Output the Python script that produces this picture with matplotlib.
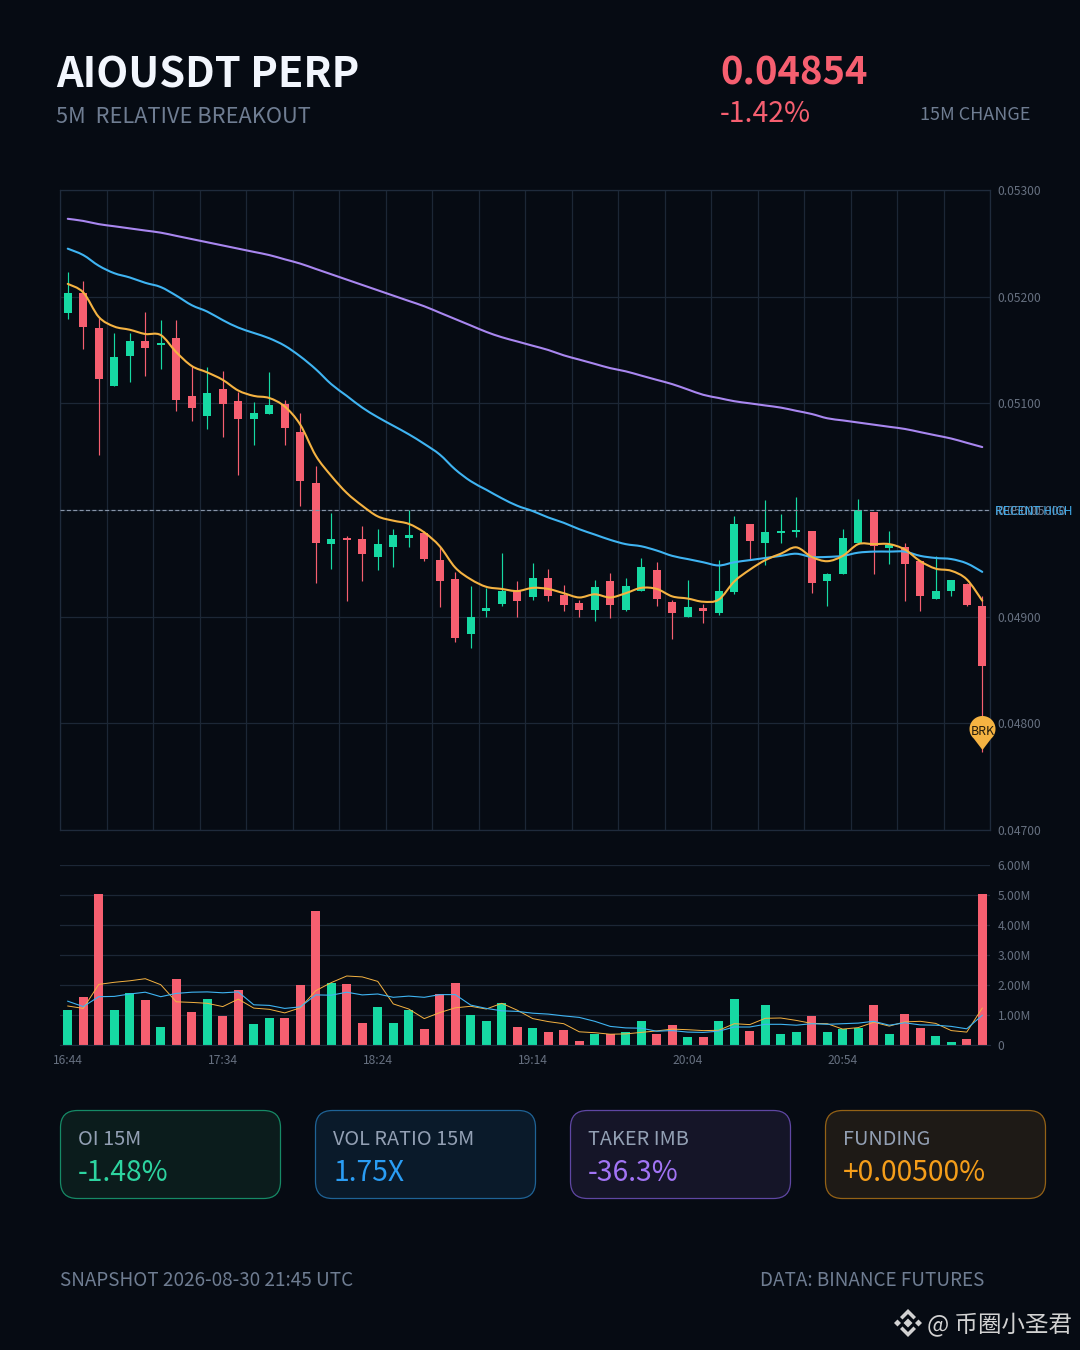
"""
AIOUSDT PERP 5M relative breakout card
"""

import numpy as np
import matplotlib
matplotlib.use('Agg')
import matplotlib.pyplot as plt
from matplotlib.path import Path
from matplotlib.patches import FancyBboxPatch, PathPatch, Polygon

plt.rcParams['font.family'] = ['Noto Sans CJK SC', 'DejaVu Sans']

# Data
opens = [0.05185, 0.05203, 0.05171, 0.05116, 0.05144, 0.05158, 0.05155, 0.05161, 0.05107, 0.05088,
         0.05113, 0.05102, 0.05085, 0.05090, 0.05099, 0.05073, 0.05025, 0.04968, 0.04974, 0.04973,
         0.04956, 0.04965, 0.04974, 0.04978, 0.04953, 0.04935, 0.04884, 0.04905, 0.04912, 0.04924,
         0.04918, 0.04936, 0.04920, 0.04913, 0.04906, 0.04933, 0.04906, 0.04924, 0.04944, 0.04914,
         0.04900, 0.04908, 0.04903, 0.04923, 0.04987, 0.04969, 0.04978, 0.04979, 0.04980, 0.04933,
         0.04940, 0.04969, 0.04998, 0.04964, 0.04965, 0.04952, 0.04917, 0.04924, 0.04931, 0.04910]
closes = [0.05203, 0.05172, 0.05123, 0.05143, 0.05158, 0.05152, 0.05157, 0.05103, 0.05096, 0.05110,
          0.05099, 0.05085, 0.05091, 0.05098, 0.05077, 0.05027, 0.04969, 0.04973, 0.04972, 0.04959,
          0.04968, 0.04977, 0.04977, 0.04954, 0.04933, 0.04880, 0.04900, 0.04908, 0.04924, 0.04915,
          0.04936, 0.04919, 0.04911, 0.04906, 0.04928, 0.04911, 0.04929, 0.04947, 0.04917, 0.04903,
          0.04909, 0.04905, 0.04924, 0.04987, 0.04971, 0.04979, 0.04980, 0.04981, 0.04932, 0.04940,
          0.04974, 0.05000, 0.04966, 0.04967, 0.04949, 0.04919, 0.04924, 0.04934, 0.04911, 0.04854]
highs = [0.05223, 0.05215, 0.05180, 0.05166, 0.05166, 0.05186, 0.05178, 0.05178, 0.05135, 0.05134,
         0.05130, 0.05111, 0.05101, 0.05129, 0.05103, 0.05091, 0.05041, 0.04997, 0.04976, 0.04985,
         0.04982, 0.04982, 0.05000, 0.04980, 0.04966, 0.04942, 0.04929, 0.04927, 0.04960, 0.04933,
         0.04950, 0.04945, 0.04930, 0.04916, 0.04934, 0.04941, 0.04936, 0.04955, 0.04951, 0.04916,
         0.04934, 0.04912, 0.04953, 0.04994, 0.04987, 0.05009, 0.04996, 0.05012, 0.04980, 0.04941,
         0.04982, 0.05010, 0.04998, 0.04980, 0.04969, 0.04952, 0.04957, 0.04934, 0.04932, 0.04919]
lows = [0.05179, 0.05151, 0.05052, 0.05116, 0.05120, 0.05126, 0.05132, 0.05093, 0.05083, 0.05076,
        0.05068, 0.05033, 0.05061, 0.05090, 0.05061, 0.05004, 0.04932, 0.04945, 0.04915, 0.04933,
        0.04944, 0.04947, 0.04965, 0.04952, 0.04909, 0.04876, 0.04871, 0.04900, 0.04910, 0.04900,
        0.04916, 0.04915, 0.04905, 0.04900, 0.04896, 0.04899, 0.04905, 0.04924, 0.04910, 0.04879,
        0.04900, 0.04894, 0.04902, 0.04921, 0.04954, 0.04948, 0.04969, 0.04975, 0.04922, 0.04910,
        0.04940, 0.04969, 0.04940, 0.04949, 0.04915, 0.04905, 0.04917, 0.04919, 0.04910, 0.04773]

ma_fast = [0.05212, 0.05204, 0.05181, 0.05172, 0.05169, 0.05165, 0.05164, 0.05148, 0.05135, 0.05129,
           0.05122, 0.05112, 0.05107, 0.05105, 0.05097, 0.05080, 0.05051, 0.05032, 0.05016, 0.05004,
           0.04994, 0.04990, 0.04987, 0.04979, 0.04966, 0.04946, 0.04935, 0.04928, 0.04926, 0.04924,
           0.04927, 0.04926, 0.04922, 0.04918, 0.04921, 0.04918, 0.04922, 0.04927, 0.04926, 0.04919,
           0.04917, 0.04914, 0.04916, 0.04933, 0.04944, 0.04953, 0.04959, 0.04965, 0.04956, 0.04952,
           0.04957, 0.04968, 0.04968, 0.04968, 0.04963, 0.04952, 0.04945, 0.04943, 0.04935, 0.04915]
ma_mid = [0.05245, 0.05239, 0.05229, 0.05222, 0.05218, 0.05213, 0.05209, 0.05201, 0.05192, 0.05186,
          0.05178, 0.05171, 0.05166, 0.05161, 0.05154, 0.05144, 0.05132, 0.05118, 0.05107, 0.05096,
          0.05087, 0.05079, 0.05071, 0.05062, 0.05052, 0.05038, 0.05027, 0.05019, 0.05011, 0.05004,
          0.04999, 0.04993, 0.04988, 0.04982, 0.04977, 0.04972, 0.04968, 0.04966, 0.04962, 0.04957,
          0.04954, 0.04951, 0.04948, 0.04951, 0.04953, 0.04955, 0.04957, 0.04959, 0.04956, 0.04956,
          0.04957, 0.04960, 0.04961, 0.04961, 0.04961, 0.04957, 0.04955, 0.04954, 0.04950, 0.04942]
ma_slow = [0.05273, 0.05271, 0.05268, 0.05266, 0.05264, 0.05262, 0.05260, 0.05257, 0.05254, 0.05251,
           0.05248, 0.05245, 0.05242, 0.05239, 0.05235, 0.05231, 0.05226, 0.05221, 0.05216, 0.05211,
           0.05206, 0.05201, 0.05196, 0.05191, 0.05185, 0.05179, 0.05173, 0.05167, 0.05162, 0.05158,
           0.05154, 0.05150, 0.05145, 0.05141, 0.05137, 0.05133, 0.05130, 0.05126, 0.05122, 0.05118,
           0.05113, 0.05108, 0.05105, 0.05102, 0.05100, 0.05098, 0.05096, 0.05093, 0.05090, 0.05086,
           0.05084, 0.05082, 0.05080, 0.05078, 0.05076, 0.05073, 0.05070, 0.05067, 0.05063, 0.05059]

volumes = [1.16, 1.59, 5.03, 1.16, 1.73, 1.49, 0.60, 2.21, 1.10, 1.53,
           0.97, 1.84, 0.70, 0.91, 0.90, 1.99, 4.47, 2.08, 2.03, 0.74,
           1.26, 0.73, 1.18, 0.52, 1.69, 2.06, 0.99, 0.81, 1.39, 0.59,
           0.58, 0.43, 0.49, 0.12, 0.38, 0.36, 0.42, 0.80, 0.37, 0.67,
           0.28, 0.26, 0.79, 1.54, 0.47, 1.32, 0.36, 0.42, 0.97, 0.42,
           0.53, 0.56, 1.32, 0.38, 1.04, 0.57, 0.29, 0.09, 0.19, 5.02]
vol_fast = [1.30, 1.22, 2.02, 2.09, 2.14, 2.21, 2.01, 1.44, 1.42, 1.39,
            1.28, 1.53, 1.23, 1.19, 1.07, 1.24, 1.81, 2.08, 2.30, 2.27,
            2.12, 1.37, 1.20, 0.88, 1.08, 1.24, 1.29, 1.20, 1.39, 1.16,
            0.88, 0.78, 0.71, 0.44, 0.41, 0.36, 0.37, 0.42, 0.47, 0.53,
            0.51, 0.48, 0.49, 0.71, 0.68, 0.89, 0.90, 0.82, 0.72, 0.71,
            0.53, 0.58, 0.76, 0.63, 0.77, 0.79, 0.72, 0.48, 0.43, 1.23]
vol_slow = [1.46, 1.28, 1.61, 1.62, 1.70, 1.76, 1.61, 1.72, 1.76, 1.77,
            1.74, 1.77, 1.34, 1.32, 1.22, 1.27, 1.67, 1.66, 1.76, 1.67,
            1.70, 1.59, 1.63, 1.59, 1.68, 1.68, 1.33, 1.22, 1.14, 1.12,
            1.06, 1.03, 0.97, 0.92, 0.79, 0.62, 0.57, 0.56, 0.46, 0.48,
            0.43, 0.42, 0.46, 0.60, 0.60, 0.69, 0.69, 0.66, 0.71, 0.69,
            0.71, 0.73, 0.79, 0.66, 0.74, 0.67, 0.66, 0.62, 0.54, 0.99]

recent_high = 0.05000
price_ticks = [0.047, 0.048, 0.049, 0.050, 0.051, 0.052, 0.053]
vol_ticks = [0, 1, 2, 3, 4, 5, 6]
time_labels = ['16:44', '17:34', '18:24', '19:14', '20:04', '20:54']

cards = [('OI 15M', '-1.48%', '#2dd4a0', '#0b1c1c', '#168a66'),
         ('VOL RATIO 15M', '1.75X', '#2a9df4', '#0a1a2a', '#1f6396'),
         ('TAKER IMB', '-36.3%', '#a274f5', '#151528', '#5f47a3'),
         ('FUNDING', '+0.00500%', '#f59e1a', '#1e1a16', '#946216')]

BG = '#060b13'
GRID = '#1c2736'
GREEN = '#16d9a3'
RED = '#f65f70'
ORANGE = '#f5b342'
BLUE = '#3fb4f2'
PURPLE = '#a987f0'
AXIS_TXT = '#667080'
W, H = 1080, 1350


def px_axes(fig, x0, y0, x1, y1):
    return fig.add_axes([x0 / W, 1 - y1 / H, (x1 - x0) / W, (y1 - y0) / H], facecolor='none')


def smooth_line(ax, xs, ys, color, lw):
    """Courbe lissee qui passe par chaque valeur"""
    pts = np.column_stack([xs, ys])
    ext = np.vstack([pts[0], pts, pts[-1]])
    verts = [pts[0]]
    codes = [Path.MOVETO]
    for i in range(1, len(ext) - 2):
        verts += [ext[i] + (ext[i + 1] - ext[i - 1]) / 6,
                  ext[i + 1] - (ext[i + 2] - ext[i]) / 6,
                  ext[i + 1]]
        codes += [Path.CURVE4] * 3
    ax.add_patch(PathPatch(Path(verts, codes), fc='none', ec=color, lw=lw, zorder=4, capstyle='round'))


fig = plt.figure(figsize=(W / 100, H / 100), dpi=100, facecolor=BG)
x = np.arange(len(opens))
up = np.array(closes) >= np.array(opens)
colors = [GREEN if u else RED for u in up]

# Prix
ax = px_axes(fig, 60, 190, 990, 830)
ax.set_xlim(-0.5, 59.5)
ax.set_ylim(0.047, 0.053)
ax.set_xticks(np.arange(-0.5, 60, 3))
ax.set_yticks(price_ticks)
ax.set_yticklabels([f'{v:.5f}' for v in price_ticks])
ax.yaxis.tick_right()
ax.tick_params(axis='y', length=0, pad=5.4, labelsize=8.7, labelcolor=AXIS_TXT)
ax.tick_params(axis='x', length=0, labelbottom=False)
ax.grid(True, color=GRID, lw=0.9, zorder=0)
ax.set_axisbelow(True)
for s in ax.spines.values():
    s.set_color('#1f2b3c')
    s.set_linewidth(0.9)

ax.vlines(x, lows, highs, colors=colors, lw=0.85, zorder=2)
bottoms = np.minimum(opens, closes)
heights = np.abs(np.array(closes) - np.array(opens))
ax.bar(x, heights, bottom=bottoms, width=8 / 15.5, color=colors, lw=0, zorder=3)

ax.axhline(recent_high, color='#8794a8', lw=0.85, dashes=(3.4, 2), zorder=3)
smooth_line(ax, x, ma_slow, PURPLE, 1.5)
smooth_line(ax, x, ma_mid, BLUE, 1.5)
smooth_line(ax, x, ma_fast, ORANGE, 1.5)

# Marqueur BRK
t = np.linspace(-0.27 * np.pi, 1.27 * np.pi, 40)
pin = np.column_stack([13 * np.cos(t), 23.5 + 13 * np.sin(t)])
pin = np.vstack([[0, 2.5], pin, [0, 2.5]])
ax.plot([x[-1]], [lows[-1]], marker=Path(pin, closed=True), ms=36.5 * 2 * 0.72, mfc=ORANGE, mec='none',
        ls='none', zorder=5, clip_on=False)
ax.annotate('BRK', (x[-1], lows[-1]), xytext=(0, 14.8), textcoords='offset points', ha='center',
            va='center', fontsize=8.9, color='#241c0c', zorder=6, annotation_clip=False)

# Volume
vax = px_axes(fig, 60, 865, 990, 1045)
vax.set_xlim(-0.5, 59.5)
vax.set_ylim(0, 6)
vax.bar(x, volumes, width=8.6 / 15.5, color=colors, lw=0, zorder=2)
vax.plot(x, vol_fast, color=ORANGE, lw=0.7, zorder=3)
vax.plot(x, vol_slow, color=BLUE, lw=0.8, zorder=3)
vax.set_yticks(vol_ticks)
vax.set_yticklabels(['0'] + [f'{v:.2f}M' for v in vol_ticks[1:]])
vax.yaxis.tick_right()
vax.tick_params(axis='y', length=0, pad=5.4, labelsize=8.7, labelcolor=AXIS_TXT)
vax.set_xticks(x[:len(time_labels) * 10:10])
vax.set_xticklabels(time_labels)
vax.tick_params(axis='x', length=0, pad=6.5, labelsize=8.7, labelcolor=AXIS_TXT)
vax.grid(True, axis='y', color=GRID, lw=0.9, zorder=0)
vax.set_axisbelow(True)
for name, s in vax.spines.items():
    s.set_visible(name == 'bottom')
    s.set_color('#1f2b3c')

# Textes et cartes, en pixels
ov = fig.add_axes([0, 0, 1, 1], facecolor='none')
ov.set_xlim(0, W)
ov.set_ylim(H, 0)
ov.axis('off')


def txt(px, py, s, size_px, color, weight='normal', ha='left'):
    ov.text(px, py, s, fontsize=size_px * 0.72, color=color, fontweight=weight, ha=ha, va='baseline')


txt(56, 87, 'AIOUSDT PERP', 41.6, '#f2f6fd', 'bold')
txt(56, 123, '5M  RELATIVE BREAKOUT', 21.8, '#6f7d92')
txt(720, 84.5, '0.04854', 38.2, RED, 'bold')
txt(720, 122, '-1.42%', 28.4, RED)
txt(1030, 120, '15M CHANGE', 18, '#6f7d92', ha='right')

txt(995, 515, 'REF 0.05000', 12.6, '#6f7d92')
txt(995, 515, 'RECENT HIGH', 12, '#3fa9e8')

card_x = [60, 315, 570, 825]
for cx, (label, value, col, face, edge) in zip(card_x, cards):
    ov.add_patch(FancyBboxPatch((cx + 0.5, 1110.5), 220, 88, boxstyle='round,pad=0,rounding_size=17',
                                fc=face, ec=edge, lw=0.9))
    txt(cx + 18, 1145, label, 19.9, '#93a0b4')
    txt(cx + 18, 1181, value, 28.2, col)

txt(60, 1286, 'SNAPSHOT 2026-08-30 21:45 UTC', 18.9, '#6f7d92')
txt(984, 1286, 'DATA: BINANCE FUTURES', 18.9, '#6f7d92', ha='right')

# Logo et signature
lc = '#d2d2d2'
cx, cy = 908, 1323
ov.add_patch(Polygon([(cx, cy - 4.5), (cx + 4.5, cy), (cx, cy + 4.5), (cx - 4.5, cy)], fc=lc, ec='none'))
for sx in (-1, 1):
    ov.add_patch(Polygon([(cx + sx * 14, cy), (cx + sx * 10.5, cy + 3.5), (cx + sx * 7, cy), (cx + sx * 10.5, cy - 3.5)],
                         fc=lc, ec='none'))
    ov.add_patch(Polygon([(cx, cy + sx * 14), (cx + 8, cy + sx * 6), (cx + 5.5, cy + sx * 3.5), (cx, cy + sx * 9),
                          (cx - 5.5, cy + sx * 3.5), (cx - 8, cy + sx * 6)], fc=lc, ec='none'))
txt(927, 1332, '@ 币圈小圣君', 23.5, lc)

fig.savefig('out.png', dpi=100, facecolor=BG)
plt.close(fig)
